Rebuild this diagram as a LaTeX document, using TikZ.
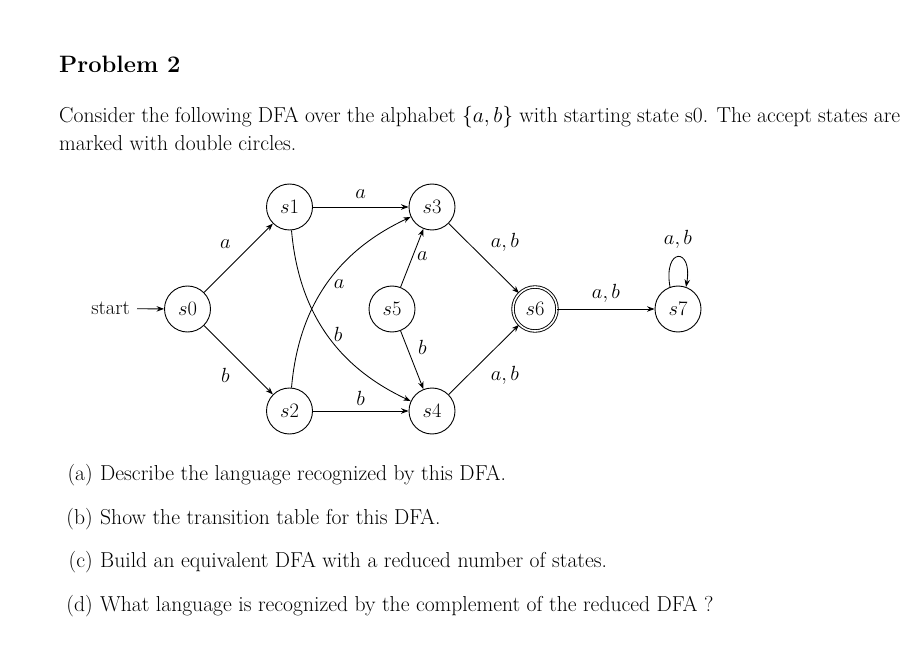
\RequirePackage{fix-cm}
\documentclass[tikz,border=0pt]{standalone}
\usetikzlibrary{arrows.meta}
\begin{document}
\begin{tikzpicture}[x=1pt,y=-1pt,
  txt/.style={inner sep=0pt, font=\fontsize{21.6}{28}\selectfont},
  state/.style={circle, draw, line width=0.9pt, minimum size=46pt, inner sep=0pt, font=\fontsize{20.5}{28}\selectfont},
  accept/.style={state, double, double distance=1.6pt, minimum size=44pt},
  arr/.style={line width=0.85pt, -{Stealth[length=7.5pt,width=5.5pt]}},
  lab/.style={inner sep=0pt, font=\fontsize{20.5}{28}\selectfont}]
\useasboundingbox (0,0) rectangle (911,655);

\node[inner sep=0pt, anchor=base west, font=\fontsize{23.7}{28}\selectfont\bfseries] (title) at (59,72.5) {Problem 2};
\node[txt, anchor=base west] (p1) at (59,122.5) {\makebox[841pt][s]{Consider the following DFA over the alphabet $\{a,b\}$ with starting state s0. The accept states are}};
\node[txt, anchor=base west] (p2) at (59,150.5) {marked with double circles.};

\node[state] (s0) at (187.5,309) {$s0$};
\node[state] (s1) at (289.5,207) {$s1$};
\node[state] (s2) at (289.5,411) {$s2$};
\node[state] (s3) at (432,207) {$s3$};
\node[state] (s4) at (432,411) {$s4$};
\node[state] (s5) at (392,309) {$s5$};
\node[accept] (s6) at (535,309) {$s6$};
\node[state] (s7) at (678,309) {$s7$};

\node[lab, anchor=base east] (st) at (130,315) {start};
\draw[arr] ([xshift=7pt]st.east) -- (s0);

\draw[arr] (s0) -- (s1) node[lab, midway, shift={(-13,-14)}] {$a$};
\draw[arr] (s0) -- (s2) node[lab, midway, shift={(-13,15)}] {$b$};
\draw[arr] (s1) -- (s3) node[lab, midway, shift={(0,-13)}] {$a$};
\draw[arr] (s2) -- (s4) node[lab, midway, shift={(0,-13)}] {$b$};
\draw[arr] (s1) to[bend right=30] node[lab, midway, shift={(12,1.5)}] {$b$} (s4);
\draw[arr] (s2) to[bend left=30] node[lab, midway, shift={(13,-0.6)}] {$a$} (s3);
\draw[arr] (s5) -- (s3) node[lab, midway, shift={(10.5,-1.5)}] {$a$};
\draw[arr] (s5) -- (s4) node[lab, midway, shift={(10.5,-12.5)}] {$b$};
\draw[arr] (s3) -- (s6) node[lab, midway, shift={(21,-16)}] {$a,b$};
\draw[arr] (s4) -- (s6) node[lab, midway, shift={(21,16)}] {$a,b$};
\draw[arr] (s6) -- (s7) node[lab, midway, shift={(0,-16)}] {$a,b$};
\draw[arr] (s7.110) .. controls +(-7,-40) and +(7,-40) .. (s7.70)
  node[lab, pos=0.5, shift={(0,-18)}] {$a,b$};

\node[txt, anchor=base east] (la) at (93,480) {(a)};
\node[txt, anchor=base west] (ta) at (100,480) {Describe the language recognized by this DFA.};
\node[txt, anchor=base east] (lb) at (93,524) {(b)};
\node[txt, anchor=base west] (tb) at (100,524) {Show the transition table for this DFA.};
\node[txt, anchor=base east] (lc) at (93,567) {(c)};
\node[txt, anchor=base west] (tc) at (100,567) {Build an equivalent DFA with a reduced number of states.};
\node[txt, anchor=base east] (ld) at (93,611) {(d)};
\node[txt, anchor=base west] (td) at (100,611) {What language is recognized by the complement of the reduced DFA ?};
\end{tikzpicture}
\end{document}
